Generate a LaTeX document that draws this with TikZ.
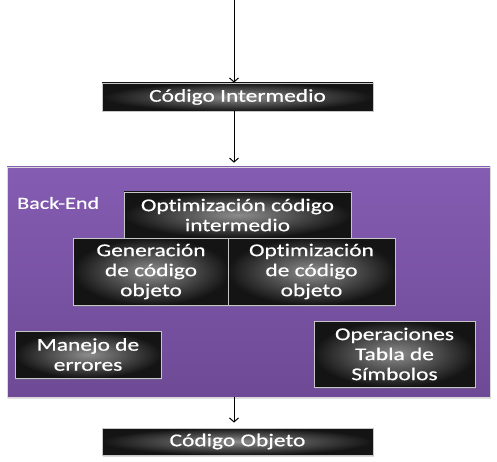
\documentclass[tikz,border=0pt]{standalone}
\usepackage{fontspec}
\setmainfont{Carlito}[FakeStretch=1.3,FakeBold=0.6,Ligatures=NoCommon]
\usetikzlibrary{arrows.meta,positioning,shadows}
\definecolor{backendtop}{RGB}{132,92,178}
\definecolor{backendbot}{RGB}{110,74,150}

\begin{document}
\begin{tikzpicture}[x=1pt,y=-1pt,
  tile/.style={draw=gray!45,line width=0.8pt,inner color=black!45,outer color=black!92,
    text=white,align=center,font=\fontsize{18}{20}\selectfont,inner sep=0pt,
    drop shadow={shadow xshift=1pt,shadow yshift=-1.5pt,opacity=0.3}},
  bar/.style={tile,minimum width=271pt,minimum height=28pt},
  arr/.style={-{Straight Barb[length=4pt,width=9pt]},line width=1pt}]
  \useasboundingbox (0,0) rectangle (497,462);
  \coordinate (top) at (234,0);
  \node[bar] (CI) at (237.5,97) {Código Intermedio};
  \node[draw=gray!30,line width=0.6pt,top color=backendtop,bottom color=backendbot,
    minimum width=483pt,minimum height=230pt,inner sep=0pt,
    drop shadow={shadow xshift=1pt,shadow yshift=-1.5pt,opacity=0.25}] (BE) at (248.5,282) {};
  \node[text=white,font=\fontsize{17}{19}\selectfont,anchor=west,inner sep=0pt] (lab) at (17,203) {Back-End};
  \node[tile,minimum width=227pt,minimum height=46pt] (OCI) at (237.5,215) {Optimización código\\intermedio};
  \node[tile,minimum width=156pt,minimum height=67pt] (GCO) at (151,271.5) {Generación\\de código\\objeto};
  \node[tile,minimum width=167pt,minimum height=67pt] (OCO) at (311.5,271.5) {Optimización\\de código\\objeto};
  \node[tile,minimum width=146pt,minimum height=47pt] (ME) at (88,354.5) {Manejo de\\errores};
  \node[tile,minimum width=161pt,minimum height=66pt] (TS) at (394.5,354) {Operaciones\\Tabla de\\Símbolos};
  \node[bar,minimum height=27pt] (CO) at (237.5,441.5) {Código Objeto};
  \draw[arr] (top) -- (top |- CI.north);
  \draw[arr,shorten >=4pt] (CI.south -| top) -- (top |- BE.north);
  \draw[arr,shorten >=5pt] (BE.south -| top) -- (top |- CO.north);
\end{tikzpicture}
\end{document}
